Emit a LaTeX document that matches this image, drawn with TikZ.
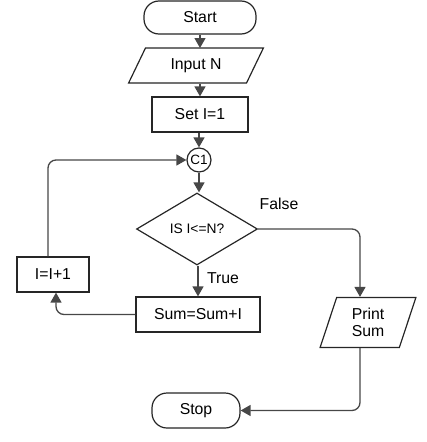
\documentclass[tikz,border=0pt]{standalone}
\usepackage{fontspec}
\setmainfont{Liberation Sans}
\usetikzlibrary{shapes.geometric,arrows.meta}
\tikzset{
  box/.style={draw=black!85, line width=1.2pt, fill=white, inner sep=0pt, font=\fontsize{15.8}{16.5}\selectfont},
  term/.style={box, rounded corners=15pt},
  proc/.style={box},
  io/.style={box, trapezium, trapezium stretches=true},
  dec/.style={box, diamond, font=\fontsize{13.8}{15}\selectfont},
  conn/.style={box, circle, font=\fontsize{13.5}{14}\selectfont},
  arr/.style={draw=black!72, line width=1.3pt, -{Triangle[length=10pt,width=11pt]}},
  lbl/.style={font=\fontsize{15.8}{16.5}\selectfont}
}
\begin{document}
\begin{tikzpicture}[x=1pt,y=-1pt]
\useasboundingbox (0,0) rectangle (427,442);
\node[term, minimum width=112pt, minimum height=33pt] (start) at (200,17.5) {Start};
\node[io, trapezium left angle=59, trapezium right angle=121, minimum width=135pt, minimum height=35pt] (in) at (196,65.5) {Input N};
\node[proc, minimum width=96pt, minimum height=35pt] (set) at (200,114.5) {Set I=1};
\node[conn, minimum size=24pt] (c1) at (199,160) {C1};
\node[dec, minimum width=121pt, minimum height=72pt, aspect=1.68] (dia) at (197,229) {IS I<=N?};
\node[proc, minimum width=124pt, minimum height=35pt] (sum) at (198,314.5) {Sum=Sum+I};
\node[proc, minimum width=72pt, minimum height=35pt] (inc) at (53,274.5) {I=I+1};
\node[io, trapezium left angle=73, trapezium right angle=107, minimum width=96pt, minimum height=50pt, align=center] (print) at (368,322.5) {Print\\Sum};
\node[term, minimum width=88pt, minimum height=35pt] (stop) at (196,410.5) {Stop};
\node[lbl] (lfalse) at (279,204) {False};
\node[lbl] (ltrue) at (223,278) {True};

\draw[arr] (start.south -| 200,0) -- (200,48);
\draw[arr] (in.south -| set.north) -- (set.north);
\draw[arr] (set.south -| c1.north) -- (c1.north);
\draw[arr] (c1.south) -- (c1.south |- dia.north);
\draw[arr] (dia.south -| 198,0) -- (sum.north);
\draw[arr, rounded corners=8pt] (dia.east) -| ([xshift=-8pt]print.north);
\draw[arr, rounded corners=8pt] ([xshift=-8pt]print.south) |- (stop.east);
\draw[arr, rounded corners=8pt] (sum.west) -| ([xshift=3pt]inc.south);
\draw[arr, rounded corners=8pt] ([xshift=-5pt]inc.north) |- (c1.west);
\end{tikzpicture}
\end{document}
